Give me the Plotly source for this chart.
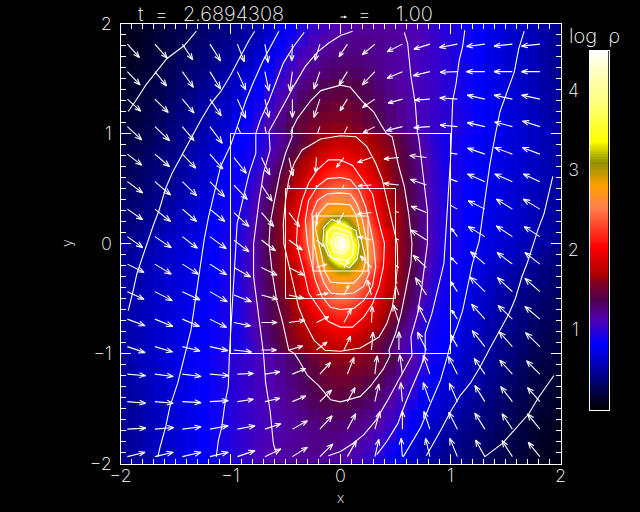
"""
Nested-grid density snapshot: log rho image, contours and velocity arrows
"""

import plotly.graph_objects as go

# log rho in hundredths, top row first. Three nested grids, finest last.
hole = [None] * 20
z_outer = [
    [8,10,13,17,21,25,29,33,37,40,44,50,55,62,75,86,96,103,108,112,115,117,118,118,117,115,112,108,102,97,93,88,83,75,70,64,60,55,50,46],
    [8,11,14,18,22,26,30,34,38,42,46,52,58,67,80,90,100,108,114,118,121,122,122,120,118,116,113,109,103,98,93,88,82,75,70,64,60,55,50,46],
    [9,12,15,19,23,28,32,36,40,45,50,56,63,74,86,98,106,113,118,122,124,124,122,119,116,114,111,107,103,98,93,88,82,75,70,64,60,55,50,46],
    [10,13,16,20,25,30,34,38,43,48,53,60,68,80,93,104,112,118,123,127,128,127,124,121,117,114,110,106,103,98,93,88,82,75,70,64,60,55,50,46],
    [11,14,18,22,27,32,36,41,46,52,58,66,76,86,100,108,117,123,128,132,133,132,128,123,118,114,110,106,103,98,93,88,82,76,70,65,60,55,50,46],
    [13,16,20,24,29,34,39,44,50,56,62,70,80,92,104,114,123,130,135,139,140,138,133,127,121,115,111,107,103,98,93,88,82,76,71,66,61,56,51,47],
    [14,17,21,25,30,36,42,47,53,58,65,73,84,98,109,119,129,137,141,144,145,141,136,130,123,117,112,107,103,98,93,88,83,77,72,66,62,57,52,48],
    [16,19,22,27,33,38,44,50,55,61,68,78,90,103,115,126,136,142,147,150,150,146,140,132,125,118,112,108,103,98,93,88,83,78,73,67,63,58,53,49],
    [17,20,24,29,34,40,46,51,57,63,71,82,96,109,121,132,143,150,154,155,155,151,143,135,127,119,113,108,103,99,94,89,84,79,74,68,64,59,54,49],
    [19,22,26,31,37,42,48,53,59,66,76,88,102,114,126,138,148,155,159,162,161,155,147,138,129,121,114,108,103,99,94,89,85,80,75,70,65,60,55,50],
    [21,24,28,33,38,43,49,55,62,70] + hole + [91,86,81,76,72,68,64,60,55,51],
    [23,26,30,35,40,45,51,58,65,74] + hole + [91,86,81,76,72,68,64,60,55,51],
    [25,28,32,37,42,47,53,60,68,79] + hole + [91,86,81,76,72,68,64,60,55,51],
    [27,30,34,38,43,49,55,62,70,81] + hole + [91,86,81,76,72,68,63,59,55,51],
    [29,32,36,40,45,50,57,64,72,83] + hole + [91,85,80,75,71,67,63,59,54,50],
    [31,34,38,42,47,52,59,66,74,85] + hole + [91,84,78,74,70,66,62,58,54,50],
    [33,37,41,45,50,55,61,68,76,86] + hole + [90,84,78,74,70,66,61,57,53,49],
    [35,39,43,48,53,58,64,70,78,87] + hole + [90,83,77,73,69,65,60,56,52,48],
    [38,42,47,52,57,62,67,73,80,89] + hole + [90,82,76,72,68,64,59,55,51,47],
    [41,46,51,56,61,66,71,76,82,90] + hole + [90,82,76,71,66,62,58,53,50,46],
    [46,50,53,58,62,66,71,76,82,90] + hole + [90,82,76,71,66,61,56,51,46,41],
    [47,51,55,59,64,68,72,76,82,90] + hole + [89,80,73,67,62,57,52,47,42,38],
    [48,52,56,60,65,69,73,77,83,90] + hole + [87,78,70,64,58,53,48,43,39,35],
    [49,53,57,61,66,70,74,78,84,90] + hole + [86,76,68,61,55,50,45,41,37,33],
    [50,54,58,62,66,70,74,78,84,91] + hole + [85,74,66,59,52,47,42,38,34,31],
    [50,54,59,63,67,71,75,80,85,91] + hole + [83,72,64,57,50,45,40,36,32,29],
    [51,55,59,63,68,72,76,81,86,91] + hole + [81,70,62,55,49,43,38,34,30,27],
    [51,55,60,64,68,72,76,81,86,91] + hole + [79,68,60,53,47,42,37,32,28,25],
    [51,55,60,64,68,72,76,81,86,91] + hole + [74,65,58,51,45,40,35,30,26,23],
    [51,55,60,64,68,72,76,81,86,91] + hole + [70,62,55,49,43,38,33,28,24,21],
    [50,55,60,65,70,75,80,85,89,94,99,103,108,114,121,129,138,147,155,161,162,159,155,148,138,126,114,102,88,76,66,59,53,48,42,37,31,26,22,19],
    [49,54,59,64,68,74,79,84,89,94,99,103,108,113,119,127,135,143,151,155,155,154,150,143,132,121,109,96,82,71,63,57,51,46,40,34,29,24,20,17],
    [49,53,58,63,67,73,78,83,88,93,98,103,108,112,118,125,132,140,146,150,150,147,142,136,126,115,103,90,78,68,61,55,50,44,38,33,27,22,19,16],
    [48,52,57,62,66,72,77,83,88,93,98,103,107,112,117,123,130,136,141,145,144,141,137,129,119,109,98,84,73,65,58,53,47,42,36,30,25,21,17,14],
    [47,51,56,61,66,71,76,82,88,93,98,103,107,111,115,121,127,133,138,140,139,135,130,123,114,104,92,80,70,62,56,50,44,39,34,29,24,20,16,13],
    [46,50,55,60,65,70,76,82,88,93,98,103,106,110,114,118,123,128,132,133,132,128,123,117,108,100,86,76,66,58,52,46,41,36,32,27,22,18,14,11],
    [46,50,55,60,64,70,75,82,88,93,98,103,106,110,114,117,121,124,127,128,127,123,118,112,104,93,80,68,60,53,48,43,38,34,30,25,20,16,13,10],
    [46,50,55,60,64,70,75,82,88,93,98,103,107,111,114,116,119,122,124,124,122,118,113,106,98,86,74,63,56,50,45,40,36,32,28,23,19,15,12,9],
    [46,50,55,60,64,70,75,82,88,93,98,103,109,113,116,118,120,122,122,121,118,114,108,100,90,80,67,58,52,46,42,38,34,30,26,22,18,14,11,8],
    [46,50,55,60,64,70,75,83,88,93,97,102,108,112,115,117,118,118,117,115,112,108,103,96,86,75,62,55,50,44,40,37,33,29,25,21,17,13,10,8],
]
z_mid = [
    [80,86,90,100,115,129,142,159,167,173,173,173,169,162,153,138,125,110,96,90],
    [82,88,94,105,121,137,153,169,180,190,190,180,172,167,160,143,129,115,99,90],
    [84,89,96,113,129,148,169,180,195,202,202,195,180,172,160,146,131,117,101,90],
    [85,90,101,118,138,160,173,192,208,217,217,208,192,173,161,147,132,118,103,91],
    [87,93,106,126,147,165,182,205,223,234,234,223,205,182,165,146,133,118,103,92],
    [88,95,113,132,152,170,192,216,238,254,254,238,216,192,170,152,135,119,104,92],
    [89,97,116,135,158,173,199,225,254,272,272,254,225,199,173,158,135,120,104,93],
    [90,100,118,138,160,175,205,234,267,294,294,267,234,205,175,160,138,121,104,93],
    [90,102,120,139,160,177,208,243,278,330,330,278,243,208,177,160,139,120,104,92],
    [91,104,121,141,160,180,212,247,285,375,375,285,247,212,180,160,141,121,104,91],
    [91,104,121,141,160,180,212,247,285,375,375,285,247,212,180,160,141,121,104,91],
    [92,104,120,139,160,177,208,243,278,330,330,278,243,208,177,160,139,120,102,90],
    [93,104,121,138,160,175,205,234,267,294,294,267,234,205,175,160,138,118,100,90],
    [93,104,120,135,158,173,199,225,254,272,272,254,225,199,173,158,135,116,97,89],
    [92,104,119,135,152,170,192,216,238,254,254,238,216,192,170,152,132,113,95,88],
    [92,103,118,133,146,165,182,205,223,234,234,223,205,182,165,147,126,106,93,87],
    [91,103,118,132,147,161,173,192,208,217,217,208,192,173,160,138,118,101,90,85],
    [90,101,117,131,146,160,172,180,195,202,202,195,180,169,148,129,113,96,89,84],
    [90,99,115,129,143,160,167,172,180,190,190,180,169,153,137,121,105,94,88,82],
    [90,96,110,125,138,153,162,169,173,173,173,167,159,142,129,115,100,90,86,80],
]
z_inner = [
    [167,175,187,200,211,222,232,241,248,251,250,245,237,228,216,205,192,177,170,162],
    [170,177,190,203,216,227,240,250,257,261,260,254,245,232,220,208,195,180,172,165],
    [172,180,194,208,222,234,248,259,267,270,267,261,251,240,224,212,200,187,173,165],
    [173,184,199,208,220,242,255,267,275,278,276,268,258,245,226,212,201,185,173,169],
    [175,185,200,215,230,252,268,281,290,292,290,282,270,254,238,218,203,187,175,170],
    [175,187,203,222,245,265,283,297,308,315,311,298,284,266,248,225,208,187,173,170],
    [177,190,205,228,252,274,293,315,333,345,340,318,295,277,255,232,208,190,175,172],
    [180,192,211,235,256,280,300,332,357,373,370,345,312,288,265,243,220,205,192,177],
    [180,192,212,235,258,285,305,342,377,405,398,355,325,297,272,250,223,206,192,180],
    [177,192,211,232,256,282,306,347,385,435,430,380,340,303,280,254,230,209,195,172],
    [172,195,209,230,254,280,303,340,380,430,435,385,347,306,282,256,232,211,192,177],
    [180,192,206,223,250,272,297,325,355,398,405,377,342,305,285,258,235,212,192,180],
    [177,192,205,220,243,265,288,312,345,370,373,357,332,300,280,256,235,211,192,180],
    [172,175,190,208,232,255,277,295,318,340,345,333,315,293,274,252,228,205,190,177],
    [170,173,187,208,225,248,266,284,298,311,315,308,297,283,265,245,222,203,187,175],
    [170,175,187,203,218,238,254,270,282,290,292,290,281,268,252,230,215,200,185,175],
    [169,173,185,201,212,226,245,258,268,276,278,275,267,255,242,220,208,199,184,173],
    [165,173,187,200,212,224,240,251,261,267,270,267,259,248,234,222,208,194,180,172],
    [165,172,180,195,208,220,232,245,254,260,261,257,250,240,227,216,203,190,177,170],
    [162,170,177,192,205,216,228,237,245,250,251,248,241,232,222,211,200,187,175,167],
]
z_core = [
    [340,348,356,362,366,367,362,350,335,318],
    [345,358,368,378,385,385,378,360,342,322],
    [350,365,380,395,405,408,395,372,350,328],
    [352,370,390,410,428,428,410,382,355,330],
    [352,372,395,420,445,450,422,390,360,332],
    [332,360,390,422,450,445,420,395,372,352],
    [330,355,382,410,428,428,410,390,370,352],
    [328,350,372,395,408,405,395,380,365,350],
    [322,342,360,378,385,385,378,368,358,345],
    [318,335,350,362,367,366,362,356,348,340],
]

# colour bar stops, log rho value and colour
bar_values = [0, 0.6, 0.83, 1.12, 1.37, 1.58, 1.7, 2.03, 2.53, 2.8, 3.09, 3.36, 3.86, 4.16, 4.5]
bar_colors = ['#000000', '#0000c4', '#0000ff', '#5000b0', '#500050', '#800020', '#b00000', '#ff0000',
              '#ff8050', '#ffa000', '#909000', '#ffff00', '#ffff80', '#ffffb0', '#ffffff']
bar_levels = list(range(0, 451, 3))

# velocity arrows, top row first. Stored in units where 21 is a speed of 1.00
u_outer = [
    [36,37,31,32,21,10,-2,-15,-25,-38,-46,-48,-54,-55,-55,-55],
    [38,35,33,32,25,12,-8,-18,-25,-38,-46,-50,-52,-55,-55,-55],
    [40,40,35,34,25,12,0,-18,-22,-37,-43,-45,-53,-53,-55,-55],
    [43,44,35,37,25,10,0,-15,-18,-35,-48,-48,-52,-53,-53,-52],
    [43,44,40,39,0,0,0,0,0,0,0,0,-52,-52,-53,-53],
    [46,47,43,44,0,0,0,0,0,0,0,0,-50,-52,-53,-50],
    [46,47,43,45,0,0,0,0,0,0,0,0,-45,-50,-48,-50],
    [46,49,45,49,0,0,0,0,0,0,0,0,-18,-50,-48,-47],
    [50,49,48,50,0,0,0,0,0,0,0,0,-20,-43,-46,-45],
    [50,52,53,52,0,0,0,0,0,0,0,0,-20,-45,-45,-45],
    [53,54,51,50,0,0,0,0,0,0,0,0,-17,-40,-43,-45],
    [53,53,53,54,0,0,0,0,0,0,0,0,-20,-38,-40,-43],
    [55,55,56,57,48,45,40,32,20,7,-8,-20,-27,-32,-38,-40],
    [55,55,56,55,48,45,40,35,23,12,-5,-20,-24,-30,-35,-37],
    [55,57,56,55,53,48,45,37,25,15,0,-18,-26,-30,-31,-37],
    [53,55,56,55,53,48,45,39,27,12,-4,-13,-23,-28,-31,-35],
]
v_outer = [
    [-40,-42,-47,-50,-53,-55,-50,-49,-38,-32,-23,-15,-10,-7,-6,-6],
    [-40,-43,-47,-52,-55,-58,-58,-52,-40,-40,-20,-12,-2,0,0,0],
    [-36,-40,-42,-50,-57,-55,-55,-55,-35,-25,-12,-3,4,12,12,12],
    [-40,-42,-42,-50,-50,-50,-50,-45,-38,-18,-12,-3,5,12,14,17],
    [-33,-38,-42,-45,0,0,0,0,0,0,0,0,8,18,20,20],
    [-34,-40,-42,-45,0,0,0,0,0,0,0,0,18,23,23,23],
    [-32,-37,-37,-37,0,0,0,0,0,0,0,0,25,25,30,30],
    [-33,-33,-35,-36,0,0,0,0,0,0,0,0,25,30,32,30],
    [-25,-30,-30,-32,0,0,0,0,0,0,0,0,20,37,35,35],
    [-23,-27,-25,-30,0,0,0,0,0,0,0,0,30,44,42,40],
    [-20,-22,-22,-25,0,0,0,0,0,0,0,0,27,45,41,38],
    [-18,-16,-13,-12,0,0,0,0,0,0,0,0,35,48,45,42],
    [-5,-7,-7,-5,2,7,17,35,50,55,58,57,53,47,42,40],
    [-5,-5,-3,3,7,10,17,35,42,53,57,57,55,48,45,42],
    [3,5,7,10,10,16,25,40,46,53,55,53,51,48,46,46],
    [13,13,13,13,18,23,28,38,48,52,55,55,55,50,48,43],
]
u_mid = [
    [37,25,12,-3,-22,-42,-45,-50],
    [40,32,10,0,-20,-40,-45,-48],
    [45,37,0,0,0,0,-45,-46],
    [45,42,0,0,0,0,-45,-47],
    [50,47,0,0,0,0,-43,-40],
    [52,49,0,0,0,0,-17,-33],
    [50,47,48,37,22,3,-17,-25],
    [53,45,41,32,20,5,0,-27],
]
v_mid = [
    [-47,-52,-55,-45,-29,-15,-4,6],
    [-43,-48,-50,-50,-45,-3,5,17],
    [-42,-42,0,0,0,0,12,19],
    [-35,-32,0,0,0,0,20,30],
    [-28,-23,0,0,0,0,30,37],
    [-20,-13,0,0,0,0,50,52],
    [-10,0,7,18,41,48,53,51],
    [-6,0,12,24,42,54,55,54],
]
u_inner = [
    [32,0,-20,-42],
    [40,0,0,-40],
    [45,0,0,-33],
    [45,35,15,-12],
]
v_inner = [
    [-43,-40,-35,-5],
    [-30,0,0,10],
    [-23,0,0,35],
    [-10,5,30,45],
]
u_core = [[25,-15], [30,15]]
v_core = [[-20,-5], [10,20]]

c01 = [(-1.31,1.93),(-1.42,1.8),(-1.58,1.68),(-1.68,1.55),(-1.77,1.44),(-1.86,1.3),(-1.93,1.2)]
c02 = [(1.94,-1.2),(1.8,-1.4),(1.71,-1.55),(1.57,-1.71),(1.47,-1.82),(1.31,-1.94)]
c03 = [(-.78,1.93),(-.83,1.85),(-.91,1.7),(-1,1.53),(-1.09,1.38),(-1.18,1.27),(-1.27,1.12),(-1.36,.95),(-1.44,.8),
       (-1.53,.64),(-1.59,.5),(-1.65,.3),(-1.7,.17),(-1.75,.02),(-1.8,-.14),(-1.85,-.27),(-1.89,-.45),(-1.93,-.61)]
c04 = [(1.93,.61),(1.89,.45),(1.85,.27),(1.8,.14),(1.75,-.02),(1.7,-.17),(1.65,-.3),(1.59,-.5),(1.53,-.64),
       (1.44,-.8),(1.36,-.95),(1.27,-1.12),(1.18,-1.27),(1.09,-1.38),(1,-1.53),(.91,-1.7),(.83,-1.85),(.78,-1.93)]
c05 = [(-.56,1.93),(-.62,1.82),(-.7,1.67),(-.79,1.47),(-.86,1.3),(-.94,1.06),(-1,.89),(-1.09,.7),(-1.15,.45),(-1.2,.24),
       (-1.24,.03),(-1.27,-.18),(-1.3,-.39),(-1.33,-.58),(-1.36,-.79),(-1.42,-1.03),(-1.48,-1.27),(-1.55,-1.48),(-1.59,-1.67),(-1.64,-1.85),(-1.66,-1.94)]
c06 = [(1.67,1.93),(1.62,1.77),(1.58,1.56),(1.52,1.39),(1.45,1.2),(1.41,1),(1.36,.73),(1.32,.45),(1.29,.21),(1.26,.02),
       (1.2,-.18),(1.17,-.33),(1.11,-.61),(1.06,-.76),(1,-.91),(.97,-1.03),(.91,-1.24),(.82,-1.45),(.73,-1.67),(.57,-1.94)]
c07 = [(-.33,1.92),(-.42,1.8),(-.52,1.64),(-.59,1.45),(-.65,1.3),(-.73,1.12),(-.77,1),(-.77,.82),(-.83,.64),(-.89,.39),(-.94,.18),
       (-.95,0),(-.98,-.45),(-1,-.76),(-1.01,-1),(-1.02,-1.3),(-1.05,-1.45),(-1.08,-1.67),(-1.11,-1.79),(-1.13,-1.94)]
c08 = [(1.13,1.94),(1.11,1.79),(1.08,1.67),(1.05,1.45),(1.02,1.3),(1.01,1),(1,.76),(.98,.45),(.95,0),(.94,-.18),(.89,-.39),
       (.83,-.64),(.77,-.82),(.77,-1),(.73,-1.12),(.65,-1.3),(.59,-1.45),(.52,-1.64),(.42,-1.8),(.33,-1.92)]
c09 = [(.11,1.93),(0,1.89),(-.11,1.82),(-.21,1.74),(-.32,1.61),(-.42,1.44),(-.5,1.29),(-.58,1.15),(-.65,1.02),(-.64,.85),(-.7,.64),
       (-.74,.39),(-.77,.18),(-.79,0),(-.79,-.3),(-.76,-.55),(-.71,-.97),(-.7,-1),(-.68,-1.27),(-.64,-1.52),(-.61,-1.82),(-.58,-1.92)]
c10 = [(.58,1.92),(.61,1.82),(.64,1.52),(.68,1.27),(.7,1),(.71,.97),(.76,.55),(.79,.3),(.79,0),(.77,-.18),(.74,-.39),(.7,-.64),
       (.64,-.85),(.65,-1.02),(.58,-1.15),(.5,-1.29),(.42,-1.44),(.32,-1.61),(.21,-1.74),(.11,-1.82),(0,-1.89),(-.11,-1.93)]
c11 = [(0,1.44),(.09,1.42),(.2,1.29),(.3,1.2),(.38,1.06),(.42,1),(.47,.97),(.53,.7),(.58,.52),(.62,.27),(.65,0),
       (.64,-.18),(.6,-.39),(.55,-.64),(.5,-.82),(.44,-.97),(.45,-1.02),(.39,-1.14),(.27,-1.3),(.18,-1.39),(0,-1.44),
       (-.09,-1.42),(-.2,-1.29),(-.3,-1.2),(-.38,-1.06),(-.42,-1),(-.47,-.97),(-.53,-.7),(-.58,-.52),(-.62,-.27),(-.65,0),
       (-.64,.18),(-.6,.39),(-.55,.64),(-.5,.82),(-.44,.97),(-.45,1.02),(-.39,1.14),(-.27,1.3),(-.18,1.39),(0,1.44)]
c12 = [(0,.98),(.14,.97),(.24,.88),(.32,.73),(.38,.58),(.44,.33),(.5,.09),(.515,0),(.52,-.18),(.5,-.39),(.47,-.58),(.42,-.73),(.35,-.85),(.18,-.95),
       (0,-.98),(-.14,-.97),(-.24,-.88),(-.32,-.73),(-.38,-.58),(-.44,-.33),(-.5,-.09),(-.515,0),(-.52,.18),(-.5,.39),(-.47,.58),(-.42,.73),(-.35,.85),(-.18,.95),(0,.98)]
c13 = [(0,.76),(.11,.71),(.2,.58),(.29,.45),(.33,.27),(.4,0),(.39,-.21),(.35,-.39),(.29,-.55),(.21,-.67),(.11,-.76),
       (0,-.76),(-.11,-.71),(-.2,-.58),(-.29,-.45),(-.33,-.27),(-.4,0),(-.39,.21),(-.35,.39),(-.29,.55),(-.21,.67),(-.11,.76),(0,.76)]
c14 = [(0,.6),(.09,.58),(.17,.48),(.23,.33),(.27,.15),(.3,0),(.32,-.21),(.29,-.39),(.21,-.52),(.12,-.59),
       (0,-.6),(-.09,-.58),(-.17,-.48),(-.23,-.33),(-.27,-.15),(-.3,0),(-.32,.21),(-.29,.39),(-.21,.52),(-.12,.59),(0,.6)]
c15 = [(0,.46),(.09,.45),(.15,.36),(.2,.21),(.24,0),(.26,-.27),(.21,-.39),(.12,-.45),
       (0,-.46),(-.09,-.45),(-.15,-.36),(-.2,-.21),(-.24,0),(-.26,.27),(-.21,.39),(-.12,.45),(0,.46)]
c16 = [(0,.36),(.09,.35),(.14,.26),(.17,.12),(.2,0),(.23,-.15),(.2,-.27),(.12,-.36),
       (0,-.36),(-.09,-.35),(-.14,-.26),(-.17,-.12),(-.2,0),(-.23,.15),(-.2,.27),(-.12,.36),(0,.36)]
c17 = [(-.08,.22),(.14,.12),(.17,-.02),(.15,-.14),(.08,-.22),(-.11,-.11),(-.16,.01),(-.15,.15),(-.08,.22)]
c18 = [(-.06,.15),(.09,.1),(.12,-.02),(.11,-.11),(.05,-.16),(-.09,-.12),(-.13,0),(-.12,.1),(-.06,.15)]
c19 = [(-.05,.1),(.06,.07),(.08,-.02),(.03,-.09),(-.06,-.08),(-.09,.01),(-.05,.1)]
c20 = [(-.03,.06),(.04,.04),(.05,-.02),(0,-.06),(-.05,-.03),(-.05,.03),(-.03,.06)]
contours = [c01, c02, c03, c04, c05, c06, c07, c08, c09, c10, c11, c12, c13, c14, c15, c16, c17, c18, c19, c20]

# nested boxes, half widths
box_sizes = [1, 0.5, 0.25]
tick_vals = [-2, -1, 0, 1, 2]

WHITE = 'white'
FONT = 'Inter'
ARROW_SCALE = 1 / 330
BARB = 0.34
SPREAD = 0.38


def arrow_lines(u, v, x_left, y_top):
    """Shaft and two barbs per arrow, tails on a 0.25 spaced grid"""
    xs, ys = [], []
    for r in range(len(u)):
        for c in range(len(u[r])):
            if u[r][c] == 0 and v[r][c] == 0:
                continue
            x0 = x_left + 0.25 * c
            y0 = y_top - 0.25 * r
            dx = u[r][c] * ARROW_SCALE
            dy = v[r][c] * ARROW_SCALE
            x1, y1 = x0 + dx, y0 + dy
            xs += [x0, x1, x1 - BARB * (dx - SPREAD * dy), None, x1, x1 - BARB * (dx + SPREAD * dy), None]
            ys += [y0, y1, y1 - BARB * (dy + SPREAD * dx), None, y1, y1 - BARB * (dy - SPREAD * dx), None]
    return xs, ys


def line_trace(xs, ys, xaxis, yaxis):
    return go.Scatter(x=xs, y=ys, mode='lines', line=dict(color=WHITE, width=1.1),
                      xaxis=xaxis, yaxis=yaxis, hoverinfo='skip', showlegend=False)


scale = [[v / 4.5, c] for v, c in zip(bar_values, bar_colors)]


def image(z, x0, dx, xaxis, yaxis, smooth=False):
    return go.Heatmap(z=z[::-1], x0=x0, dx=dx, y0=x0, dy=dx, zmin=0, zmax=450, colorscale=scale,
                      showscale=False, xaxis=xaxis, yaxis=yaxis, hoverinfo='skip',
                      zsmooth='best' if smooth else False)


fig = go.Figure()

# coarse level
fig.add_trace(image(z_outer, -1.95, 0.1, 'x', 'y'))
fig.add_trace(line_trace(*arrow_lines(u_outer, v_outer, -1.9375, 1.8125), 'x', 'y'))

# middle level sits on its own overlay so it hides the coarse arrows
fig.add_trace(image(z_mid, -0.95, 0.1, 'x2', 'y2', smooth=True))
fig.add_trace(line_trace(*arrow_lines(u_mid, v_mid, -0.96875, 0.78125), 'x2', 'y2'))

# inner levels, contours on top of everything
fig.add_trace(image(z_inner, -0.475, 0.05, 'x3', 'y3', smooth=True))
fig.add_trace(image(z_core, -0.1125, 0.025, 'x3', 'y3', smooth=True))
fig.add_trace(line_trace(*arrow_lines(u_inner, v_inner, -0.46875, 0.28125), 'x3', 'y3'))
fig.add_trace(line_trace(*arrow_lines(u_core, v_core, -0.21875, 0.03125), 'x3', 'y3'))
for c in contours:
    fig.add_trace(line_trace([p[0] for p in c], [p[1] for p in c], 'x3', 'y3'))

# colour bar
fig.add_trace(go.Heatmap(z=[[b] for b in bar_levels], x=[0], y=[b / 100 for b in bar_levels],
                         zmin=0, zmax=450, colorscale=scale, showscale=False,
                         xaxis='x4', yaxis='y4', hoverinfo='skip'))

axis_font = dict(family=FONT, size=18, color=WHITE, weight=200)
main_axis = dict(range=[-2, 2], tickvals=tick_vals, ticks='inside', ticklen=10, tickcolor=WHITE, tickwidth=1,
                 minor=dict(dtick=0.1, ticks='inside', ticklen=5, tickcolor=WHITE, tickwidth=1, showgrid=False),
                 showline=True, linecolor=WHITE, linewidth=1, mirror='allticks', showgrid=False, zeroline=False,
                 tickfont=axis_font, automargin=False)
hidden = dict(range=[-2, 2], visible=False)

fig.update_layout(
    width=640, height=512, autosize=False,
    margin=dict(l=0, r=0, t=0, b=0),
    paper_bgcolor='black', plot_bgcolor='black',
    showlegend=False,
    xaxis=dict(domain=[120.5 / 640, 560.5 / 640], anchor='y', ticklabelstandoff=-4, **main_axis),
    yaxis=dict(domain=[1 - 463.5 / 512, 1 - 23.5 / 512], anchor='x', ticklabelstandoff=4, **main_axis),
    xaxis2=dict(overlaying='x', anchor='y2', **hidden),
    yaxis2=dict(overlaying='y', anchor='x2', **hidden),
    xaxis3=dict(overlaying='x', anchor='y3', **hidden),
    yaxis3=dict(overlaying='y', anchor='x3', **hidden),
    xaxis4=dict(domain=[589.5 / 640, 608.5 / 640], anchor='y4', range=[-0.5, 0.5], showticklabels=False, automargin=False,
                ticks='', showgrid=False, zeroline=False, showline=True, linecolor=WHITE, linewidth=1, mirror=True),
    yaxis4=dict(domain=[1 - 409.5 / 512, 1 - 50.5 / 512], anchor='x4', range=[0, 4.5], tickvals=[1, 2, 3, 4], automargin=False,
                ticks='', showgrid=False, zeroline=False, showline=True, linecolor=WHITE, linewidth=1, mirror=True,
                tickfont=axis_font, ticklabelstandoff=6),
)

for half in box_sizes:
    fig.add_shape(type='rect', x0=-half, x1=half, y0=-half, y1=half, xref='x', yref='y',
                  line=dict(color=WHITE, width=1), layer='above')

head_font = dict(family=FONT, size=20, color=WHITE, weight=200)
title_font = dict(family=FONT, size=14, color=WHITE, weight=200)
header_texts = [('t', 136), ('=', 153), ('2.6894308', 181), ('=', 356), ('1.00', 394)]
for text, px in header_texts:
    fig.add_annotation(text=text, xref='paper', yref='paper', x=px / 640, y=1 - 14 / 512,
                       xanchor='left', yanchor='middle', showarrow=False, font=head_font)
fig.add_annotation(text='log\u00a0\u00a0\u03c1', xref='paper', yref='paper', x=567 / 640, y=1 - 36 / 512,
                   xanchor='left', yanchor='middle', showarrow=False, font=head_font)
fig.add_annotation(text='x', xref='paper', yref='paper', x=340 / 640, y=1 - 497 / 512,
                   xanchor='center', yanchor='middle', showarrow=False, font=title_font)
fig.add_annotation(text='y', xref='paper', yref='paper', x=66 / 640, y=1 - 243 / 512, textangle=-90,
                   xanchor='center', yanchor='middle', showarrow=False, font=title_font)
fig.add_annotation(text='', xref='paper', yref='paper', x=347 / 640, y=1 - 17 / 512, ax=-8, ay=0,
                   showarrow=True, arrowhead=2, arrowsize=0.6, arrowwidth=1, arrowcolor=WHITE)

fig.write_html("out.html", config=dict(displayModeBar=False),
               post_script="document.body.style.margin='0';document.body.style.background='black';")
